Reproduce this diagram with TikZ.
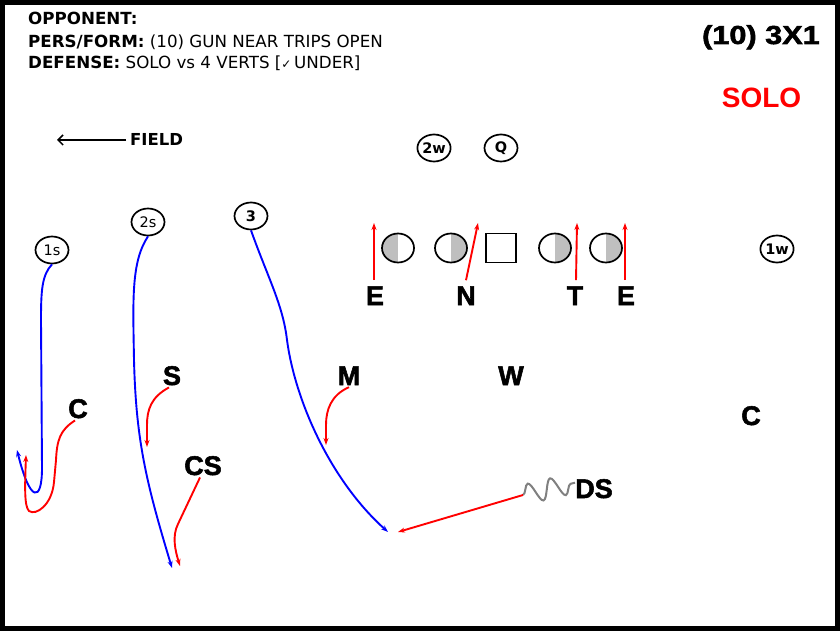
\documentclass[tikz,border=0pt]{standalone}
\usepackage{fontspec}
\setmainfont{DejaVu Sans}
\newfontfamily\arialfont{Liberation Sans}
\newfontfamily\blackfont[FakeBold=2]{Liberation Sans}
\usetikzlibrary{arrows.meta}
\usetikzlibrary{shapes.geometric}
\usetikzlibrary{decorations.pathmorphing}

\tikzset{
  header/.style={anchor=base west, inner sep=0pt, font=\fontsize{16.7}{18}\selectfont},
  player/.style={draw, ellipse, line width=1.7pt, minimum width=33pt, minimum height=27pt, inner sep=0pt, font=\fontsize{14.5}{15}\selectfont},
  lineman/.style={draw, ellipse, line width=1.7pt, minimum width=32pt, minimum height=29pt, inner sep=0pt},
  shadeleft/.style={path picture={\fill[gray!50] (path picture bounding box.south west) rectangle (path picture bounding box.north);}},
  shaderight/.style={path picture={\fill[gray!50] (path picture bounding box.south) rectangle (path picture bounding box.north east);}},
  defender/.style={anchor=base, inner sep=2pt, font=\blackfont\bfseries\fontsize{27}{27}\selectfont},
  cover/.style={blue, line width=1.9pt, -{Stealth[length=7pt,width=5pt]}},
  react/.style={red, line width=1.9pt, -{Stealth[length=7pt,width=5pt]}},
}

\begin{document}
\begin{tikzpicture}[x=1pt, y=-1pt]
  \useasboundingbox (0,0) rectangle (840,631);
  \draw [line width=5pt] (2.5,2.5) rectangle (837.5,628);

  % header
  \node [header] (iopp) at (28,24.5) {\textbf{OPPONENT:}};
  \node [header] (ipers) at (28,47.5) {\textbf{PERS/FORM:} (10) GUN NEAR TRIPS OPEN};
  \node [header] (idef) at (28,69) {\textbf{DEFENSE:} SOLO vs 4 VERTS [{\fontsize{12}{12}\selectfont ✓}\,UNDER]};
  \node [anchor=base east, inner sep=0pt, font=\blackfont\bfseries\fontsize{26}{26}\selectfont] (itag) at (820,44) {\scalebox{1.18}[1]{(10) 3X1}};
  \node [anchor=base, inner sep=0pt, red, font=\arialfont\bfseries\fontsize{28}{28}\selectfont] (icall) at (761.5,108) {SOLO};

  \node [anchor=base west, inner sep=0pt, font=\bfseries\fontsize{16.5}{18}\selectfont] (ifield) at (130,146) {FIELD};
  \coordinate (fieldtip) at (57,140);
  \draw [-{Straight Barb[length=5pt,width=10pt]}, line width=1.5pt] ([xshift=-4pt]ifield.west |- fieldtip) -- (fieldtip);

  % offense
  \node [player] (i2w) at (434,148) {\textbf{2w}};
  \node [player] (iQ) at (501,148) {\textbf{Q}};
  \node [player] (i1s) at (52,250) {1s};
  \node [player] (i2s) at (148,222) {2s};
  \node [player] (i3) at (251,216) {\textbf{3}};
  \node [player] (i1w) at (777,249) {\textbf{1w}};

  \node [lineman, shadeleft] (iLT) at (398,248) {};
  \node [lineman, shaderight] (iLG) at (451,248) {};
  \node [draw, line width=1.7pt, minimum width=30pt, minimum height=29pt, inner sep=0pt] (iOC) at (501,248) {};
  \node [lineman, shaderight] (iRG) at (555,248) {};
  \node [lineman, shaderight] (iRT) at (606,248) {};

  % defense
  \node [defender] (iE1) at (375,305) {E};
  \node [defender] (iN) at (466,305) {N};
  \node [defender] (iT) at (575,305) {T};
  \node [defender] (iE2) at (626,305) {E};
  \node [defender] (iS) at (172,385) {S};
  \node [defender] (iM) at (349,385) {M};
  \node [defender] (iW) at (511,385) {W};
  \node [defender] (iCfield) at (78,418) {C};
  \node [defender] (iCbound) at (751,425) {C};
  \node [defender] (iCS) at (203,475) {CS};
  \node [defender] (iDS) at (594,498) {DS};

  % rush
  \coordinate (rE1) at (374,223);
  \coordinate (rN) at (478,223);
  \coordinate (rT) at (577,223);
  \coordinate (rE2) at (625,223);
  \draw [react] ([xshift=-1pt,yshift=4pt]iE1.north) -- (rE1);
  \draw [react] ([yshift=4pt]iN.north) -- (rN);
  \draw [react] ([xshift=1pt,yshift=4pt]iT.north) -- (rT);
  \draw [react] ([xshift=-1pt,yshift=4pt]iE2.north) -- (rE2);

  % routes
  \coordinate (t1s) at (17,450);
  \coordinate (t2s) at (172,568);
  \coordinate (t3) at (388,532);
  \draw [cover] (i1s.south) .. controls (42,275) and (41,290) .. (41,320) -- (42,468) .. controls (42,503) and (30,503) .. (t1s);
  \draw [cover] (i2s.south) .. controls (131,262) and (133,300) .. (134,360) .. controls (136,440) and (146,482) .. (t2s);
  \draw [cover] (i3.south) .. controls (268,278) and (283,305) .. (287,340) .. controls (295,400) and (330,480) .. (t3);

  % coverage
  \coordinate (tC) at (26,455);
  \coordinate (tS) at (147,447);
  \coordinate (tCS) at (180,566);
  \coordinate (tM) at (326,445);
  \coordinate (tDS) at (398,532);
  \coordinate (dsbreak) at (523,495);
  \draw [react] ([xshift=-3pt]iCfield.south) .. controls (60,430) and (57,440) .. (56,460) -- (54,482) .. controls (52,505) and (36,516) .. (29,511) .. controls (24,506) and (25,485) .. (tC);
  \draw [react] ([xshift=-3pt]iS.south) .. controls (151,397) and (147,410) .. (147,425) -- (tS);
  \draw [react] ([xshift=-3pt]iCS.south) -- (178,524) .. controls (172,536) and (175,550) .. (tCS);
  \draw [react] (iM.south) .. controls (331,395) and (326,410) .. (326,425) -- (tM);
  \draw [gray, line width=2pt, decorate, decoration={snake, segment length=23pt, amplitude=10pt}] (dsbreak) -- ([xshift=2pt,yshift=6pt]iDS.west);
  \draw [react] (dsbreak) -- (tDS);
\end{tikzpicture}
\end{document}
